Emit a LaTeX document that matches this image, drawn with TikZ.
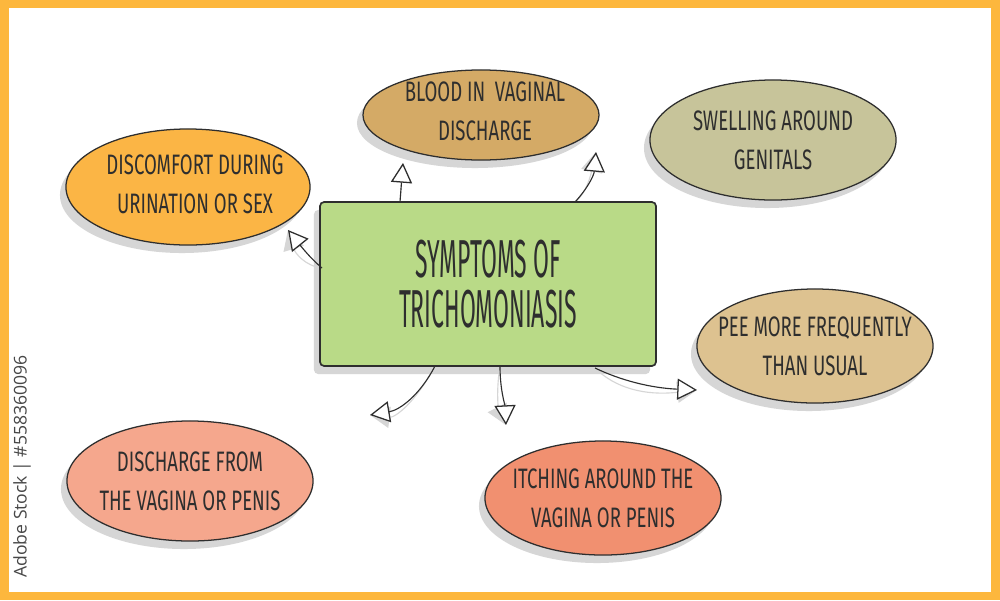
\documentclass[tikz,border=0pt]{standalone}
\usepackage{fontspec}
\setmainfont{Fira Sans}
\newfontfamily\hand{Fira Sans}[FakeStretch=0.66]
\newfontfamily\handc{Fira Sans}[FakeStretch=0.43]
\newfontfamily\wm{Open Sans}
\usetikzlibrary{shapes.geometric,arrows.meta,shadows}
\definecolor{framec}{HTML}{FDB73D}
\definecolor{boxc}{HTML}{B9DA87}
\definecolor{eA}{HTML}{FBB545}
\definecolor{eB}{HTML}{D4AA66}
\definecolor{eC}{HTML}{C7C49A}
\definecolor{eD}{HTML}{DDC290}
\definecolor{eE}{HTML}{F5A78D}
\definecolor{eF}{HTML}{F19070}
\definecolor{ink}{HTML}{2E2E2E}
\definecolor{shade}{HTML}{D6D6D6}
\begin{document}
\begin{tikzpicture}[x=0.025cm,y=-0.025cm,
  ell/.style={ellipse, draw=ink, line width=0.9pt, inner sep=0pt,
    drop shadow={shadow xshift=-0.15cm, shadow yshift=-0.2cm, fill=shade, opacity=1}},
  etext/.style={align=center, text=ink, font=\hand\fontsize{20}{28}\selectfont},
  cbox/.style={rectangle, rounded corners=3pt, draw=ink, line width=1.2pt, fill=boxc,
    minimum width=8.4cm, minimum height=4.1cm, align=center, text=ink,
    font=\handc\fontsize{38}{36}\selectfont,
    drop shadow={shadow xshift=-0.15cm, shadow yshift=-0.2cm, fill=shade, opacity=1}},
  arr/.style={draw=ink, line width=0.8pt,
    -{Triangle[length=14pt,width=15pt,fill=white,line width=0.9pt]}},
  arrsh/.style={draw=shade, line width=0.8pt,
    -{Triangle[length=14pt,width=15pt,fill=shade,line width=0.9pt]}}
]
\fill[framec] (0,0) rectangle (1000,600);
\fill[white] (9,8) rectangle (991,592);
\useasboundingbox (0,0) rectangle (1000,600);

% watermark id
\node[rotate=90, anchor=east, text=black!72, font=\wm\fontsize{12.5}{12.5}\selectfont, inner sep=0pt] (wmid) at (22,355) {Adobe Stock | \#558360096};

% arrow start and end points
\coordinate (s1) at (400,202); \coordinate (t1) at (403,163);
\coordinate (s2) at (575,202); \coordinate (t2) at (596,152);
\coordinate (s3) at (322,268); \coordinate (t3) at (288,230);
\coordinate (s4) at (435,366); \coordinate (t4) at (370,415);
\coordinate (s5) at (500,366); \coordinate (t5) at (506,425);
\coordinate (s6) at (595,368); \coordinate (t6) at (697,390);

% arrow shadows
\begin{scope}[shift={(-5,8)}]
\draw[arrsh] (s1) -- (t1);
\draw[arrsh] (s2) .. controls (588,188) and (594,175) .. (t2);
\draw[arrsh] (s3) .. controls (310,258) and (300,245) .. (t3);
\draw[arrsh] (s4) .. controls (420,395) and (400,410) .. (t4);
\draw[arrsh] (s5) .. controls (500,390) and (505,405) .. (t5);
\draw[arrsh] (s6) .. controls (620,380) and (650,388) .. (t6);
\end{scope}

% ellipses
\node[ell, fill=eA, minimum width=6.1cm, minimum height=2.9cm] (e1) at (188,187) {};
\node[etext] (x1) at (195,184) {DISCOMFORT DURING\\URINATION OR SEX};
\node[ell, fill=eB, minimum width=5.9cm, minimum height=2.25cm] (e2) at (481,115) {};
\node[etext] (x2) at (485,111) {BLOOD IN\, VAGINAL\\DISCHARGE};
\node[ell, fill=eC, minimum width=6.15cm, minimum height=3.0cm] (e3) at (773,140) {};
\node[etext] (x3) at (e3) {SWELLING AROUND\\GENITALS};
\node[ell, fill=eD, minimum width=5.9cm, minimum height=2.85cm] (e4) at (815,346) {};
\node[etext] (x4) at (e4) {PEE MORE FREQUENTLY\\THAN USUAL};
\node[ell, fill=eE, minimum width=6.15cm, minimum height=3.0cm] (e5) at (190,481) {};
\node[etext] (x5) at (e5) {DISCHARGE FROM\\THE VAGINA OR PENIS};
\node[ell, fill=eF, minimum width=5.9cm, minimum height=2.85cm] (e6) at (603,498) {};
\node[etext] (x6) at (e6) {ITCHING AROUND THE\\VAGINA OR PENIS};

% center box
\node[cbox] (c) at (488,284) {SYMPTOMS OF\\TRICHOMONIASIS};

% arrows
\draw[arr] (s1) -- (t1);
\draw[arr] (s2) .. controls (588,188) and (594,175) .. (t2);
\draw[arr] (s3) .. controls (310,258) and (300,245) .. (t3);
\draw[arr] (s4) .. controls (420,395) and (400,410) .. (t4);
\draw[arr] (s5) .. controls (500,390) and (505,405) .. (t5);
\draw[arr] (s6) .. controls (620,380) and (650,388) .. (t6);
\end{tikzpicture}
\end{document}
